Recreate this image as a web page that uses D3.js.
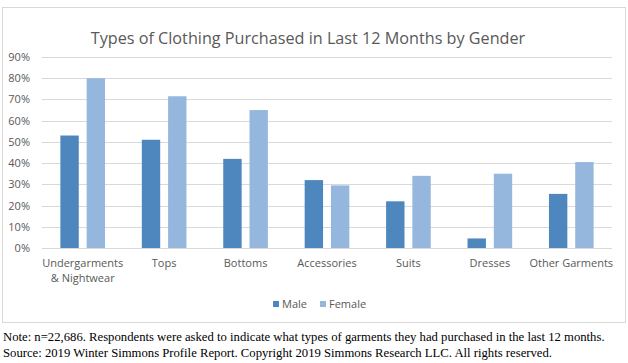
<html>
  <head>
    <title>Types of Clothing</title>
    <script type="text/javascript" src="https://cdn.jsdelivr.net/npm/d3@7"></script>
    <style type="text/css">

body {
  margin: 0;
  background: #fff;
  font-family: "Open Sans", sans-serif;
}

.tick text {
  fill: #595959;
  font-size: 11px;
  font-family: "Open Sans", sans-serif;
}

.grid line {
  stroke: #d9d9d9;
  shape-rendering: crispEdges;
}

.note {
  font-family: "Liberation Serif", serif;
  font-size: 12.7px;
  fill: #000;
}

    </style>
  </head>
  <body>
    <script type="text/javascript">

var categories = ["Undergarments\n& Nightwear", "Tops", "Bottoms", "Accessories", "Suits", "Dresses", "Other Garments"];
var series = ["Male", "Female"];
var male = [53, 51, 42, 32, 22, 4.5, 25.5];
var female = [80, 71.5, 65, 29.5, 34, 35, 40.5];
var yTicks = [0, 10, 20, 30, 40, 50, 60, 70, 80, 90];
var notes = [
  "Note: n=22,686. Respondents were asked to indicate what types of garments they had purchased in the last 12 months.",
  "Source: 2019 Winter Simmons Profile Report. Copyright 2019 Simmons Research LLC. All rights reserved."
];

var colors = {Male: "#4e86be", Female: "#95b7de"};

var w = 628,
    h = 363,
    plotLeft = 42,
    plotRight = 612,
    plotTop = 57,
    plotBottom = 248;

var svg = d3.select("body")
  .append("svg")
    .attr("width", w)
    .attr("height", h);

svg.append("rect")
    .attr("x", 2.5)
    .attr("y", 7.5)
    .attr("width", 623)
    .attr("height", 315)
    .attr("fill", "#fff")
    .attr("stroke", "#d9d9d9");

var x = d3.scaleBand()
    .domain(categories)
    .range([plotLeft, plotRight]);

var x1 = d3.scaleBand()
    .domain(series)
    .range([0, x.bandwidth()])
    .paddingInner(0.3)
    .paddingOuter(0.7);

var y = d3.scaleLinear()
    .domain([0, 90])
    .range([plotBottom, plotTop]);

var grid = svg.append("g")
    .attr("class", "grid");

grid.selectAll("line")
    .data(yTicks)
  .enter().append("line")
    .attr("x1", plotLeft)
    .attr("x2", plotRight)
    .attr("y1", function(d) { return Math.round(y(d)) + 0.5; })
    .attr("y2", function(d) { return Math.round(y(d)) + 0.5; });

var yAxis = svg.append("g")
    .attr("transform", "translate(" + plotLeft + ",0)")
    .call(d3.axisLeft(y).tickValues(yTicks).tickSize(0).tickPadding(12)
      .tickFormat(function(d) { return d + "%"; }));
yAxis.select(".domain").remove();

var rows = categories.map(function(c, i) {
  return {cat: c, values: [{s: "Male", v: male[i]}, {s: "Female", v: female[i]}]};
});

var groups = svg.selectAll("g.cat")
    .data(rows)
  .enter().append("g")
    .attr("class", "cat")
    .attr("transform", function(d) { return "translate(" + x(d.cat) + ",0)"; });

groups.selectAll("rect")
    .data(function(d) { return d.values; })
  .enter().append("rect")
    .attr("x", function(d) { return x1(d.s); })
    .attr("width", x1.bandwidth())
    .attr("y", function(d) { return y(d.v); })
    .attr("height", function(d) { return y(0) - y(d.v); })
    .attr("fill", function(d) { return colors[d.s]; });

// x labels, multi-line
var xl = svg.append("g")
    .attr("fill", "#595959")
    .attr("font-size", "11px")
    .attr("text-anchor", "middle");

xl.selectAll("text")
    .data(categories)
  .enter().append("text")
    .attr("x", function(d) { return x(d) + x.bandwidth() / 2; })
    .attr("y", 267)
    .each(function(d) {
      var t = d3.select(this);
      d.split("\n").forEach(function(line, i) {
        t.append("tspan")
          .attr("x", x(d) + x.bandwidth() / 2)
          .attr("dy", i ? 15 : 0)
          .text(line);
      });
    });

svg.append("text")
    .attr("x", 308)
    .attr("y", 44)
    .attr("text-anchor", "middle")
    .attr("fill", "#595959")
    .attr("font-size", "16.2px")
    .text("Types of Clothing Purchased in Last 12 Months by Gender");

// legend
var legendX = [273, 320];
var lg = svg.selectAll("g.legend")
    .data(series)
  .enter().append("g")
    .attr("class", "legend")
    .attr("transform", function(d, i) { return "translate(" + legendX[i] + ",304)"; });

lg.append("rect")
    .attr("y", -3)
    .attr("width", 6)
    .attr("height", 6)
    .attr("fill", function(d) { return colors[d]; });

lg.append("text")
    .attr("x", 9)
    .attr("dy", ".35em")
    .attr("fill", "#595959")
    .attr("font-size", "11px")
    .text(function(d) { return d; });

svg.selectAll("text.note")
    .data(notes)
  .enter().append("text")
    .attr("class", "note")
    .attr("x", 3)
    .attr("y", function(d, i) { return 341 + i * 16; })
    .text(function(d) { return d; });

    </script>
  </body>
</html>
